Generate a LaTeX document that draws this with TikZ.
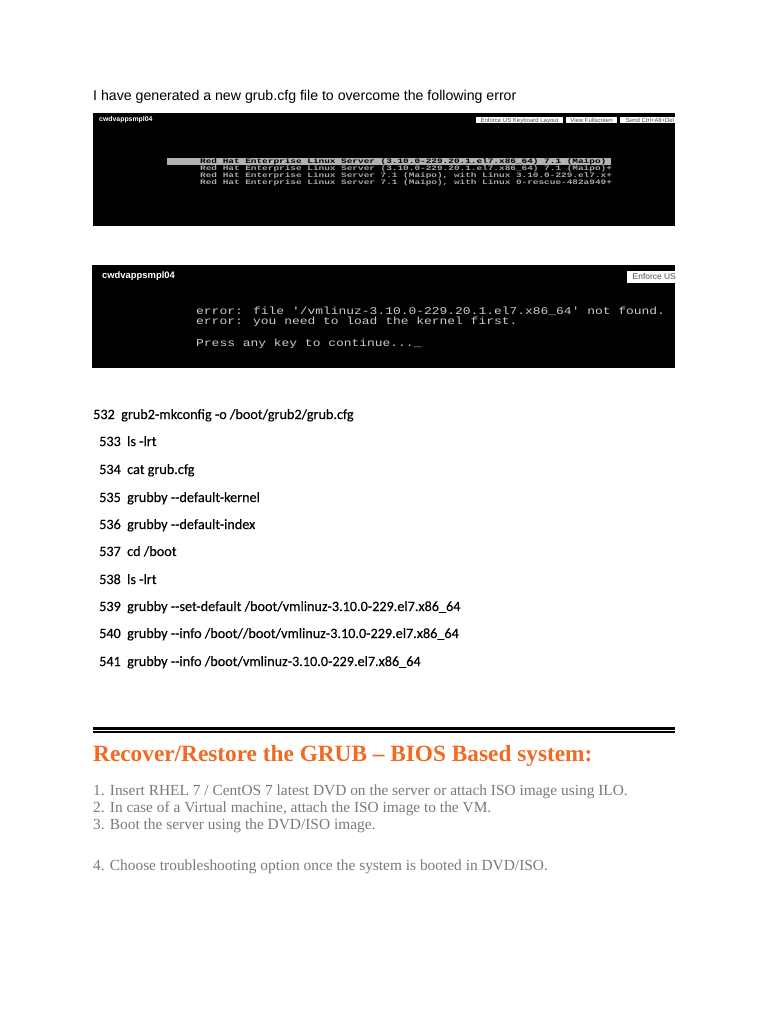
\documentclass[tikz,border=0pt]{standalone}
\usepackage{fontspec}
\setmainfont{Liberation Sans}
\newfontfamily\cmdfont[FakeBold=0.25]{Carlito}
\newfontfamily\bootfont{Liberation Mono}
\newfontfamily\headfont{Liberation Serif}
\definecolor{headorange}{HTML}{F26A21}
\definecolor{stepgray}{HTML}{7A7A7A}
\definecolor{bootgray}{HTML}{A8A8A8}
\definecolor{errgray}{HTML}{CCCCCC}
\tikzset{
    screen/.style={fill=black, draw=none},
    bootline/.style={anchor=base west, inner sep=0pt, text=bootgray, transform shape, yscale=0.72, font=\bootfont\fontsize{9.4}{9.4}\selectfont\bfseries},
    errline/.style={anchor=base west, inner sep=0pt, text=errgray, transform shape, yscale=0.8, font=\bootfont\fontsize{12.95}{13}\selectfont},
    hostname/.style={anchor=base west, inner sep=0pt, text=white},
    button/.style={fill=white, draw=none, inner sep=0pt, text=black!70, font=\fontsize{6}{6}\selectfont},
    cmdline/.style={anchor=base west, inner sep=0pt, font=\cmdfont\fontsize{14.2}{14.2}\selectfont},
    stepline/.style={anchor=base west, inner sep=0pt, text=stepgray, font=\headfont\fontsize{15.4}{15.4}\selectfont}
}

\begin{document}
\begin{tikzpicture}[x=1pt, y=1pt]
    \useasboundingbox (0,0) rectangle (768,-1024);
    \fill[white] (0,0) rectangle (768,-1024);

    \node[anchor=base west, inner sep=0pt, font=\fontsize{14.15}{14.15}\selectfont] (intro) at (93,-101)
        {I have generated a new grub.cfg file to overcome the following error};

    % first screenshot
    \fill[screen] (93,-113) rectangle (675,-226);
    \node[hostname, font=\fontsize{6.9}{6.9}\selectfont\bfseries] (hostA) at (99,-122) {cwdvappsmpl04};
    \begin{scope}
        \clip (93,-113) rectangle (675,-226);
        \node[button, minimum width=87, minimum height=6] (enforceA) at (519.5,-120.5) {Enforce US Keyboard Layout};
        \node[button, minimum width=51, minimum height=6] (viewA) at (591.5,-120.5) {View Fullscreen};
        \node[button, minimum width=60, minimum height=6] (sendA) at (650,-120.5) {Send Ctrl+Alt+Del};
    \end{scope}
    \fill[bootgray!90] (167,-158) rectangle (611,-165);
    \node[bootline, text=black] (bootA) at (200,-164) {Red Hat Enterprise Linux Server (3.10.0-229.20.1.el7.x86\_64) 7.1 (Maipo)};
    \node[bootline] (bootB) at (200,-171) {Red Hat Enterprise Linux Server (3.10.0-229.20.1.el7.x86\_64) 7.1 (Maipo)+};
    \node[bootline] (bootC) at (200,-178) {Red Hat Enterprise Linux Server 7.1 (Maipo), with Linux 3.10.0-229.el7.x+};
    \node[bootline] (bootD) at (200,-184.5) {Red Hat Enterprise Linux Server 7.1 (Maipo), with Linux 0-rescue-482a949+};

    % second screenshot
    \fill[screen] (92,-265) rectangle (675,-368);
    \node[hostname, font=\fontsize{9.4}{9.4}\selectfont\bfseries] (hostB) at (102,-278) {cwdvappsmpl04};
    \begin{scope}
        \clip (92,-265) rectangle (675,-368);
        \node[button, minimum width=60, minimum height=12, anchor=west, font=\fontsize{8.4}{8.4}\selectfont] (enforceB) at (627,-277) {\hspace*{-6pt}Enforce US};
    \end{scope}
    \node[errline] (errA) at (196,-314) {error: file '/vmlinuz-3.10.0-229.20.1.el7.x86\_64' not found.};
    \node[errline] (errB) at (196,-324) {error: you need to load the kernel first.};
    \node[errline] (errC) at (196,-346) {Press any key to continue...\_};

    % shell history
    \node[cmdline] (numA) at (93,-419) {532};
    \node[cmdline] (cmdA) at (121,-419) {grub2-mkconfig -o /boot/grub2/grub.cfg};
    \foreach \num/\cmd/\ypos in {533/{ls -lrt}/446, 534/{cat grub.cfg}/474,
            535/{grubby {-}{-}default-kernel}/502, 536/{grubby {-}{-}default-index}/529,
            537/{cd /boot}/556, 538/{ls -lrt}/584,
            539/{grubby {-}{-}set-default /boot/vmlinuz-3.10.0-229.el7.x86\_64}/611,
            540/{grubby {-}{-}info /boot//boot/vmlinuz-3.10.0-229.el7.x86\_64}/638,
            541/{grubby {-}{-}info /boot/vmlinuz-3.10.0-229.el7.x86\_64}/666} {
        \node[cmdline] (num\num) at (99,-\ypos) {\num};
        \node[cmdline] (cmd\num) at (127,-\ypos) {\cmd};
    }

    % recovery section
    \fill[black] (93,-726.5) rectangle (675,-729.5);
    \fill[black] (93,-731) rectangle (675,-733);
    \node[anchor=base west, inner sep=0pt, text=headorange, font=\headfont\fontsize{23.3}{23.3}\selectfont\bfseries] (heading) at (93,-761)
        {Recover/Restore the GRUB – BIOS Based system:};
    \node[stepline] (stepA) at (93,-795) {1. Insert RHEL 7 / CentOS 7 latest DVD on the server or attach ISO image using ILO.};
    \node[stepline] (stepB) at (93,-812) {2. In case of a Virtual machine, attach the ISO image to the VM.};
    \node[stepline] (stepC) at (93,-829) {3. Boot the server using the DVD/ISO image.};
    \node[stepline] (stepD) at (93,-870) {4. Choose troubleshooting option once the system is booted in DVD/ISO.};
\end{tikzpicture}
\end{document}
